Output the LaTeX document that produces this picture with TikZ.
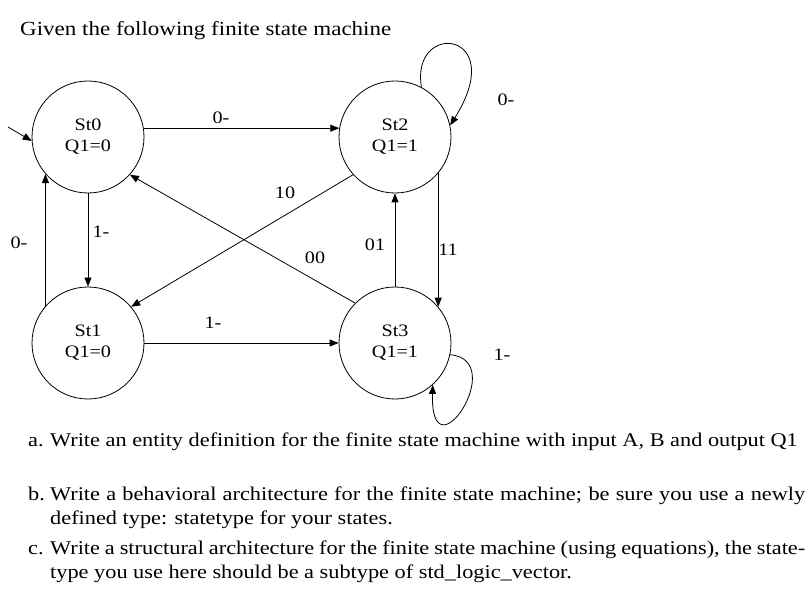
\documentclass[tikz,border=0pt]{standalone}
\usepackage{fontspec}
\setmainfont{Liberation Serif}[FakeStretch=1.15]
\usetikzlibrary{arrows.meta}
\begin{document}
\begin{tikzpicture}[x=1pt,y=-1pt,
  state/.style={draw,circle,minimum size=112pt,inner sep=0pt,align=center,font=\fontsize{17.5}{21}\selectfont,line width=0.8pt},
  edge/.style={-{Triangle[length=9pt,width=7pt]},line width=0.8pt},
  lab/.style={font=\fontsize{17.5}{20}\selectfont,inner sep=0pt},
  txt/.style={font=\fontsize{20}{24}\selectfont,anchor=base west,inner sep=0pt},
  item/.style={font=\fontsize{19.4}{24}\selectfont,anchor=base west,inner sep=0pt}]
\useasboundingbox (0,0) rectangle (809,604);
\node[txt] (title) at (20,36) {Given the following finite state machine};
\node[state] (s0) at (88,137) {St0\\Q1=0};
\node[state] (s2) at (395,137) {St2\\Q1=1};
\node[state] (s1) at (88,343) {St1\\Q1=0};
\node[state] (s3) at (395,343) {St3\\Q1=1};
\coordinate (init) at (8,127);
\draw[edge] (init) -- (s0.184);
\draw[edge] (s0.9) -- (s2.171);
\node[lab] (l01) at (221,118) {0-};
\draw[edge] (s0.270) -- (s1.90);
\node[lab] (l0s1) at (101,232) {1-};
\draw[edge] (s1.139) -- (s0.221);
\node[lab] (l10) at (19,243) {0-};
\draw[edge] (s1.0) -- (s3.180);
\node[lab] (l13) at (213,323) {1-};
\draw[edge] (s2.222) -- (s1.40);
\node[lab] (l21) at (285,193) {10};
\draw[edge] (s3.135) -- (s0.318);
\node[lab] (l30) at (315,258) {00};
\draw[edge] (s3.90) -- (s2.270);
\node[lab] (l32) at (375,245) {01};
\draw[edge] (s2.-40) -- (s3.40);
\node[lab] (l23) at (448,250) {11};
\draw[edge] (s2.62) .. controls (410,20) and (510,30) .. (s2.12);
\node[lab] (l2) at (506,100) {0-};
\draw[edge] (s3.-12) .. controls (510,360) and (430,480) .. (s3.-48);
\node[lab] (l3) at (502,355) {1-};
\node[item,text width=755pt,align=justify,anchor=north west] (qa) at (50,433) {Write an entity definition for the finite state machine with input A, B and output Q1};
\node[item] (na) at (qa.base west) [xshift=-22pt] {a.};
\node[item,text width=755pt,align=justify,anchor=north west] (qb) at (50,487) {Write a behavioral architecture for the finite state machine; be sure you use a newly defined type: statetype for your states.};
\node[item] (nb) at (qb.base west) [xshift=-22pt] {b.};
\node[item,text width=755pt,align=justify,anchor=north west] (qc) at (50,541) {Write a structural architecture for the finite state machine (using equations), the statetype you use here should be a subtype of std\_logic\_vector.};
\node[item] (nc) at (qc.base west) [xshift=-22pt] {c.};
\end{tikzpicture}
\end{document}
